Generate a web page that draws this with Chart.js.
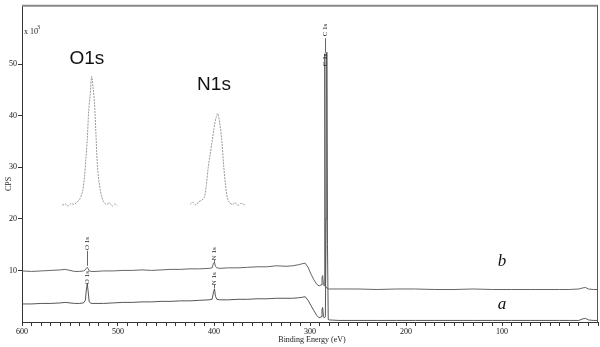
<!DOCTYPE html>
<html>
<head>
<meta charset="utf-8">
<script src="https://cdn.jsdelivr.net/npm/chart.js@4.4.0/dist/chart.umd.min.js"></script>
<style>
  html, body { margin: 0; padding: 0; background: #fff; }
</style>
</head>
<body>
<canvas id="xps" width="600" height="347"></canvas>
<script>
// survey spectra, binding energy (eV) and counts (x10^3)
const bindingEnergy = [
  600, 590, 580, 570, 560, 555, 550, 545, 540, 536,
  534, 533, 532, 531, 530, 528, 524, 515, 505, 495,
  485, 475, 465, 455, 445, 435, 425, 415, 405, 402,
  400.5, 399.5, 398.5, 397, 394, 385, 375, 365, 355, 345,
  335, 325, 318, 312, 308, 305, 302, 299, 296, 293,
  290.5, 288.5, 287.5, 286.8, 286, 285.2, 284.6, 284, 283.2, 282.5,
  281.8, 281, 280, 270, 250, 230, 210, 190, 170, 150,
  130, 110, 90, 70, 50, 40, 30, 20, 16, 13,
  10, 5, 0
];
const cpsB = [
  9.9, 9.8, 9.9, 10.0, 10.1, 10.2, 10.0, 9.8, 9.8, 9.9,
  10.1, 10.4, 10.6, 10.3, 9.9, 9.8, 9.8, 9.9, 9.9, 10.0,
  10.0, 10.1, 10.0, 10.1, 10.2, 10.2, 10.3, 10.3, 10.4, 10.5,
  11.4, 11.6, 10.8, 10.5, 10.4, 10.5, 10.5, 10.6, 10.7, 10.7,
  10.9, 10.8, 10.9, 11.1, 11.3, 11.4, 10.6, 9.3, 8.2, 7.3,
  7.0, 7.2, 8.6, 9.0, 7.2, 7.0, 52.0, 7.0, 6.7, 6.6,
  6.5, 6.4, 6.4, 6.4, 6.4, 6.3, 6.4, 6.4, 6.3, 6.3,
  6.4, 6.3, 6.3, 6.3, 6.3, 6.3, 6.3, 6.4, 6.6, 6.7,
  6.4, 6.3, 6.3
];
const cpsA = [
  3.5, 3.5, 3.6, 3.6, 3.7, 3.8, 3.7, 3.6, 3.6, 3.7,
  4.2, 6.2, 7.4, 5.8, 3.9, 3.6, 3.6, 3.6, 3.7, 3.8,
  3.8, 3.9, 3.9, 4.0, 4.0, 4.1, 4.1, 4.2, 4.3, 4.4,
  5.8, 6.4, 5.0, 4.4, 4.3, 4.3, 4.4, 4.4, 4.5, 4.5,
  4.6, 4.6, 4.6, 4.7, 4.8, 4.9, 4.2, 3.2, 2.2, 1.3,
  0.8, 1.0, 2.4, 2.8, 1.0, 0.8, 0.8, 1.0, 20.0, 52.3,
  15.0, 0.5, 0.4, 0.3, 0.3, 0.3, 0.3, 0.3, 0.3, 0.3,
  0.3, 0.3, 0.3, 0.3, 0.3, 0.3, 0.3, 0.3, 0.6, 0.7,
  0.4, 0.3, 0.3
];

// high resolution insets, drawn in the same axes
const o1sEnergy = [558, 555, 552, 549, 546, 543, 540, 537, 535, 533.5, 532, 530.5, 529, 527.5,
                   526, 524.5, 523, 521.5, 520, 518.5, 517, 515, 512, 509, 506, 503, 501];
const o1sCps = [22.6, 22.9, 22.5, 23.0, 22.8, 23.2, 23.8, 25.2, 28.0, 31.5, 35.5, 41.0, 44.0, 47.6,
                45.5, 42.5, 36.5, 30.5, 27.5, 25.6, 24.3, 23.3, 22.8, 23.1, 22.5, 22.9, 22.6];
const n1sEnergy = [425, 422, 419, 416, 413, 410, 408, 406, 404, 402, 400, 398, 396, 394,
                   392, 390, 388, 386, 384, 381, 378, 375, 372, 368];
const n1sCps = [22.8, 23.2, 22.7, 23.3, 23.6, 24.2, 26.5, 30.0, 32.5, 35.0, 37.5, 39.5, 40.4, 38.5,
                35.5, 30.5, 26.5, 24.0, 23.2, 22.8, 23.1, 22.6, 23.0, 22.7];

const xTickLabels = [600, 500, 400, 300, 200, 100];
const yTickLabels = [10, 20, 30, 40, 50];

// peak tags: [text, energy, label centre, leader top, leader bottom]
const peakTags = [
  ['O 1s', 532, 15.2, 13.8, 10.9],
  ['O 1s', 532, 8.6, null, null],
  ['N 1s', 400, 13.2, 12.0, 11.6],
  ['N 1s', 400, 8.4, 7.3, 6.5],
  ['C 1s', 284.3, 56.6, 55.0, 52.2],
  ['C 1s', 284.3, 50.8, null, null]
];

function xy(xs, ys) {
  return xs.map((x, i) => ({ x: x, y: ys[i] }));
}

const decorations = {
  id: 'decorations',
  afterDraw(chart) {
    const ctx = chart.ctx;
    const area = chart.chartArea;
    const xs = chart.scales.x;
    const ys = chart.scales.y;
    ctx.save();

    // frame top and right
    ctx.strokeStyle = '#888';
    ctx.lineWidth = 2;
    ctx.beginPath();
    ctx.moveTo(area.left, area.top);
    ctx.lineTo(area.right, area.top);
    ctx.stroke();
    ctx.strokeStyle = '#555';
    ctx.lineWidth = 1;
    ctx.beginPath();
    ctx.moveTo(area.right - 0.5, area.top);
    ctx.lineTo(area.right - 0.5, area.bottom);
    ctx.stroke();

    // peak tags
    ctx.fillStyle = '#222';
    ctx.strokeStyle = '#666';
    ctx.lineWidth = 1;
    ctx.font = '7px "Liberation Serif"';
    ctx.textAlign = 'center';
    ctx.textBaseline = 'middle';
    peakTags.forEach(t => {
      const px = Math.round(xs.getPixelForValue(t[1])) + 0.5;
      ctx.save();
      ctx.translate(px, ys.getPixelForValue(t[2]));
      ctx.rotate(-Math.PI / 2);
      ctx.fillText(t[0], 0, 0);
      ctx.restore();
      if (t[3] !== null) {
        ctx.beginPath();
        ctx.moveTo(px, ys.getPixelForValue(t[3]));
        ctx.lineTo(px, ys.getPixelForValue(t[4]));
        ctx.stroke();
      }
    });

    // inset titles
    ctx.fillStyle = '#111';
    ctx.font = '19px "Liberation Sans"';
    ctx.textBaseline = 'alphabetic';
    ctx.fillText('O1s', xs.getPixelForValue(532.5), ys.getPixelForValue(50.0));
    ctx.fillText('N1s', xs.getPixelForValue(400), ys.getPixelForValue(45.0));

    // curve names
    ctx.font = 'italic 17px "Liberation Serif"';
    ctx.fillText('b', xs.getPixelForValue(100), ys.getPixelForValue(10.8));
    ctx.fillText('a', xs.getPixelForValue(100), ys.getPixelForValue(2.6));

    // axis titles
    ctx.fillStyle = '#222';
    ctx.font = '8px "Liberation Serif"';
    ctx.textAlign = 'left';
    ctx.fillText('x 10', area.left + 2, area.top + 28);
    ctx.font = '6px "Liberation Serif"';
    ctx.fillText('3', area.left + 15, area.top + 23);
    ctx.font = '8px "Liberation Serif"';
    ctx.textAlign = 'center';
    ctx.fillText('Binding Energy (eV)', (area.left + area.right) / 2 + 2, 342);
    ctx.save();
    ctx.translate(9, (area.top + area.bottom) / 2 + 20);
    ctx.rotate(-Math.PI / 2);
    ctx.textBaseline = 'middle';
    ctx.fillText('CPS', 0, 0);
    ctx.restore();

    ctx.restore();
  }
};

new Chart(document.getElementById('xps').getContext('2d'), {
  type: 'line',
  data: {
    datasets: [
      { label: 'b', data: xy(bindingEnergy, cpsB), borderColor: '#555', borderWidth: 0.9, pointRadius: 0, tension: 0 },
      { label: 'a', data: xy(bindingEnergy, cpsA), borderColor: '#444', borderWidth: 0.9, pointRadius: 0, tension: 0 },
      { label: 'O1s', data: xy(o1sEnergy, o1sCps), borderColor: '#999', borderWidth: 1, borderDash: [2, 1], pointRadius: 0, tension: 0.3 },
      { label: 'N1s', data: xy(n1sEnergy, n1sCps), borderColor: '#999', borderWidth: 1, borderDash: [2, 1], pointRadius: 0, tension: 0.3 }
    ]
  },
  options: {
    responsive: false,
    animation: false,
    devicePixelRatio: 1,
    layout: { padding: { top: 2, right: 2, left: 0, bottom: 0 } },
    plugins: {
      legend: { display: false },
      tooltip: { enabled: false }
    },
    scales: {
      x: {
        type: 'linear',
        reverse: true,
        min: 0,
        max: 600,
        afterFit: scale => { scale.height = 25; },
        border: { display: true, color: '#333', width: 1 },
        grid: { drawOnChartArea: false, tickLength: 4, color: '#333' },
        ticks: {
          stepSize: 10,
          autoSkip: false,
          maxRotation: 0,
          maxTicksLimit: 100,
          padding: 1,
          color: '#111',
          font: { family: 'Liberation Serif', size: 8 },
          callback: value => xTickLabels.includes(value) ? String(value) : ''
        }
      },
      y: {
        min: 0,
        max: 61.3,
        afterFit: scale => { scale.width = 22; },
        border: { display: true, color: '#333', width: 1 },
        grid: { drawOnChartArea: false, tickLength: 4, color: '#333' },
        ticks: {
          stepSize: 10,
          includeBounds: false,
          padding: 1,
          color: '#111',
          font: { family: 'Liberation Serif', size: 8 },
          callback: value => yTickLabels.includes(value) ? String(value) : null
        }
      }
    }
  },
  plugins: [decorations]
});
</script>
</body>
</html>
